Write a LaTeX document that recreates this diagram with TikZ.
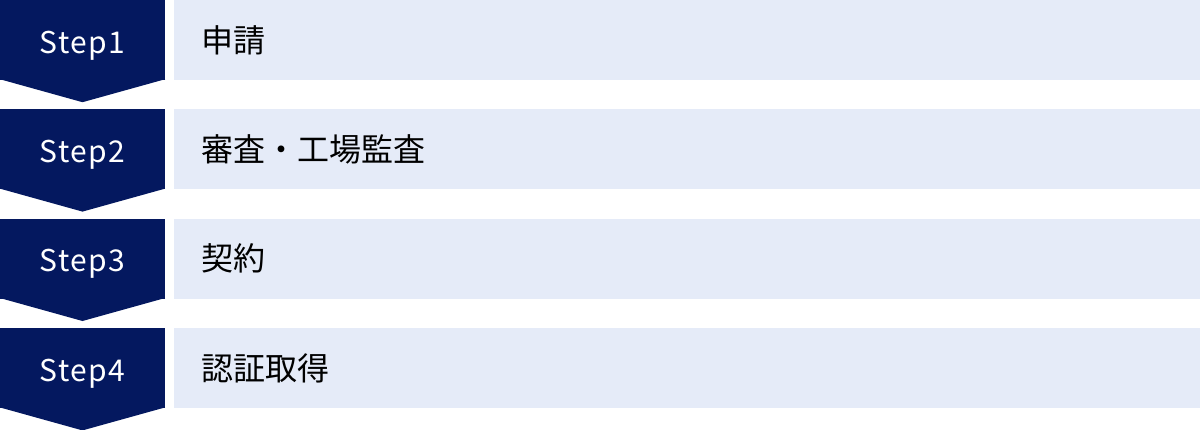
\documentclass[tikz,border=0pt]{standalone}
\usepackage{fontspec}
\setmainfont{Noto Sans CJK JP}
\newfontfamily\stepfont[LetterSpace=5]{Noto Sans CJK JP}
\usepackage{tikz}
\usetikzlibrary{positioning}

\definecolor{StepNavy}{HTML}{04185F}
\definecolor{TaskBlue}{HTML}{E5EBF8}

\begin{document}
\begin{tikzpicture}[x=1pt, y=-1pt,
stepbox/.style={rectangle, fill=StepNavy, text=white, inner sep=0pt,
minimum width=165pt, minimum height=80pt, text height=26pt, text depth=0pt,
font=\stepfont\fontsize{30}{30}\selectfont},
%
task/.style={rectangle, fill=TaskBlue, text=black, inner xsep=27pt, inner ysep=0pt,
text width=972pt, align=left, minimum height=80pt,
font=\fontsize{32}{32}\selectfont},
%
tip/.style={fill=StepNavy}]

\useasboundingbox (0,0) rectangle (1200,429);

%%%%%%%%%%%%%%%%%%%%%%%%%%%%%%
\node [stepbox] (Step1) at (82.5,40) {Step1};
\node [task, right=9pt of Step1] (apply) {申請};
%%%%%%%%%%%%%%%%%%%%%%%%%%%%%%
\node [stepbox, below=29pt of Step1] (Step2) {Step2};
\node [task, right=9pt of Step2] (audit) {審査・工場監査};
%%%%%%%%%%%%%%%%%%%%%%%%%%%%%%
\node [stepbox, below=29pt of Step2] (Step3) {Step3};
\node [task, right=9pt of Step3] (contract) {契約};
%%%%%%%%%%%%%%%%%%%%%%%%%%%%%%
\node [stepbox, below=29pt of Step3] (Step4) {Step4};
\node [task, right=9pt of Step4] (certified) {認証取得};

\begin{scope}
  \fill [tip] ([yshift=1pt]Step1.south west) -- ([yshift=1pt]Step1.south east) -- ([yshift=-22pt]Step1.south) -- cycle;
  \fill [tip] ([yshift=1pt]Step2.south west) -- ([yshift=1pt]Step2.south east) -- ([yshift=-22pt]Step2.south) -- cycle;
  \fill [tip] ([yshift=1pt]Step3.south west) -- ([yshift=1pt]Step3.south east) -- ([yshift=-22pt]Step3.south) -- cycle;
  \fill [tip] ([yshift=1pt]Step4.south west) -- ([yshift=1pt]Step4.south east) -- ([yshift=-22pt]Step4.south) -- cycle;
\end{scope}

\end{tikzpicture}
\end{document}
